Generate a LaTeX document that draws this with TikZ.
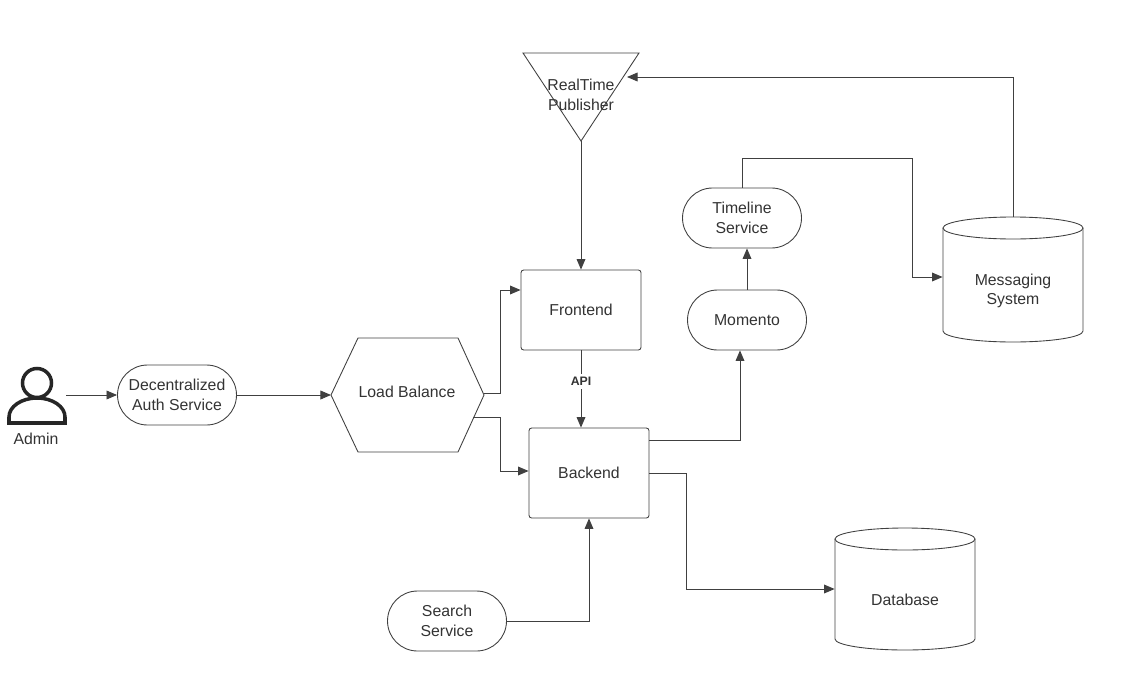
\documentclass[tikz,border=0pt]{standalone}
\usepackage{fontspec}
\setmainfont{Liberation Sans}
\usetikzlibrary{arrows.meta,shapes.misc}
\tikzset{
  px/.style={x=0.02cm,y=-0.02cm},
  base/.style={draw=black!75,line width=0.5pt,font=\fontsize{9}{11}\selectfont,text=black!80,align=center,inner sep=0pt},
  pill/.style={base,rounded rectangle,minimum width=2.38cm,minimum height=1.2cm},
  box/.style={base,rectangle,rounded corners=1.5pt,minimum width=2.4cm},
  label/.style={base,draw=none},
  shp/.style={draw=black!75,line width=0.5pt},
  link/.style={draw=black!75,line width=0.5pt,-{Triangle[length=6pt,width=5pt]}},
}
\begin{document}
\begin{tikzpicture}[px]
\useasboundingbox (0,0) rectangle (1131,686);
% admin
\draw[black!85,line width=2pt] (37,383) circle (14.5);
\draw[black!85,line width=2pt] (9,423) -- (9,417) arc[start angle=180,end angle=0,x radius=28,y radius=-19] -- (65,423) -- cycle;
\node[label] (admin) at (36,439) {Admin};
\coordinate (adm) at (66,395);
% nodes
\node[pill] (auth) at (177,395) {Decentralized\\Auth Service};
\draw[shp] (331,395) -- (358,338) -- (458,338) -- (484,395) -- (458,452) -- (358,452) -- cycle;
\node[label] (lb) at (407,392) {Load Balance};
\coordinate (lbw) at (331,395);
\node[box,minimum height=1.6cm] (fe) at (581,310) {Frontend};
\node[box,minimum height=1.8cm] (be) at (589,473) {Backend};
\draw[shp] (523,53) -- (639,53) -- (581,141) -- cycle;
\node[label] (rt) at (581,95) {RealTime\\Publisher};
\coordinate (rtb) at (581,141);
\coordinate (rtr) at (627,77);
% messaging system cylinder
\draw[shp] (1013,228) ellipse[x radius=70,y radius=11];
\draw[shp] (943,228) -- (943,331) arc[start angle=180,end angle=0,x radius=70,y radius=11] -- (1083,228);
\node[label,minimum width=2.8cm,minimum height=2.5cm] (ms) at (1013,280) {\\[8pt]Messaging\\System};
% database cylinder
\draw[shp] (905,539) ellipse[x radius=70,y radius=11];
\draw[shp] (835,539) -- (835,639) arc[start angle=180,end angle=0,x radius=70,y radius=11] -- (975,539);
\node[label,minimum width=2.8cm,minimum height=2.44cm] (dbs) at (905,589) {\\[8pt]Database};
\node[pill] (tl) at (742,218) {Timeline\\Service};
\node[pill] (mo) at (747,320) {Momento};
\node[pill] (ss) at (447,621) {Search\\Service};
% connectors
\draw[link] (adm) -- (auth.west);
\draw[link] (auth.east) -- (lbw);
\draw[link] (484,393) -- (500,393) |- (fe.west |- 0,290);
\draw[link] (473,417) -- (500,417) |- (be.west |- 0,471);
\draw[link] (fe.south) -- node[label,fill=white,font=\fontsize{7}{8}\selectfont\bfseries,inner sep=2pt,pos=0.4] {API} (be.north -| fe.south);
\draw[link] (rtb) -- (fe.north);
\draw[link] (ms.north) -- (1013,77) -- (rtr);
\draw[link] (tl.north) -- (742,158) -- (912,158) |- (ms.west |- 0,277);
\draw[link] (mo.north) -- (tl.south -| mo.north);
\draw[link] (be.east |- 0,440) -| (mo.south -| 740,0);
\draw[link] (be.east |- 0,473) -- (686,473) |- (dbs.west |- 0,589);
\draw[link] (ss.east) -| (be.south);
\end{tikzpicture}
\end{document}
